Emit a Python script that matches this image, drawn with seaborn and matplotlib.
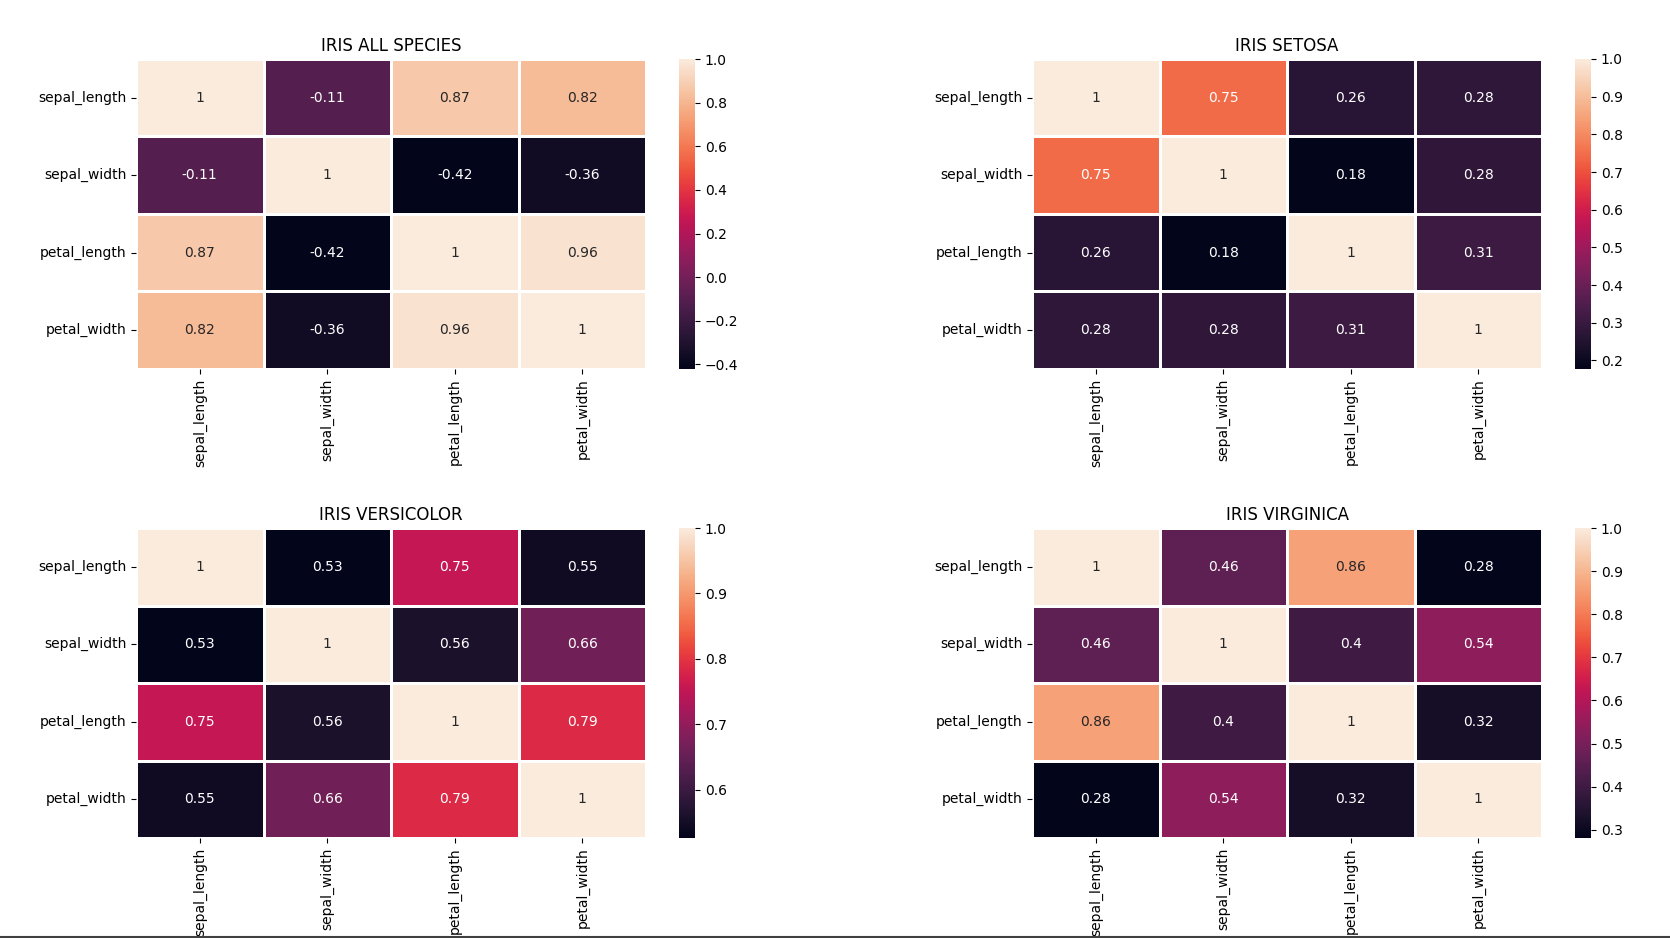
import numpy as np
import pandas as pd
import seaborn as sns
import matplotlib.pyplot as plt
from matplotlib.lines import Line2D

features = ['sepal_length', 'sepal_width', 'petal_length', 'petal_width']

# correlation matrices
corr_all = [[1.0, -0.109, 0.872, 0.818],
            [-0.109, 1.0, -0.421, -0.357],
            [0.872, -0.421, 1.0, 0.963],
            [0.818, -0.357, 0.963, 1.0]]
corr_setosa = [[1.0, 0.746, 0.264, 0.279],
               [0.746, 1.0, 0.177, 0.280],
               [0.264, 0.177, 1.0, 0.306],
               [0.279, 0.280, 0.306, 1.0]]
corr_versicolor = [[1.0, 0.526, 0.754, 0.546],
                   [0.526, 1.0, 0.561, 0.664],
                   [0.754, 0.561, 1.0, 0.787],
                   [0.546, 0.664, 0.787, 1.0]]
corr_virginica = [[1.0, 0.457, 0.864, 0.281],
                  [0.457, 1.0, 0.401, 0.538],
                  [0.864, 0.401, 1.0, 0.322],
                  [0.281, 0.538, 0.322, 1.0]]

titles = ['IRIS ALL SPECIES', 'IRIS SETOSA', 'IRIS VERSICOLOR', 'IRIS VIRGINICA']
matrices = [corr_all, corr_setosa, corr_versicolor, corr_virginica]

W, H = 1670, 938
DPI = 100
fig = plt.figure(figsize=(W / DPI, H / DPI), dpi=DPI)

# pixel boxes: heatmap left / top, colorbar offset
lefts = [136, 1032, 136, 1032]
tops = [59, 59, 528, 528]
hm_w, hm_h = 510, 310
cb_off, cb_w = 543, 16

for m, title, l, t in zip(matrices, titles, lefts, tops):
    df = pd.DataFrame(m, index=features, columns=features)
    ax = fig.add_axes([l / W, (H - t - hm_h) / H, hm_w / W, hm_h / H])
    cax = fig.add_axes([(l + cb_off) / W, (H - t - hm_h) / H, cb_w / W, hm_h / H])
    sns.heatmap(df, annot=True, linewidths=2, ax=ax, cbar_ax=cax)
    ax.set_title(title, fontsize=12)
    ax.tick_params(axis='x', rotation=90)
    ax.tick_params(axis='y', rotation=0)

# bottom frame edge
fig.add_artist(Line2D([0, 1], [1.2 / H, 1.2 / H],
                      color='#404040', linewidth=1.5, transform=fig.transFigure))

fig.savefig('out.png', dpi=DPI)
